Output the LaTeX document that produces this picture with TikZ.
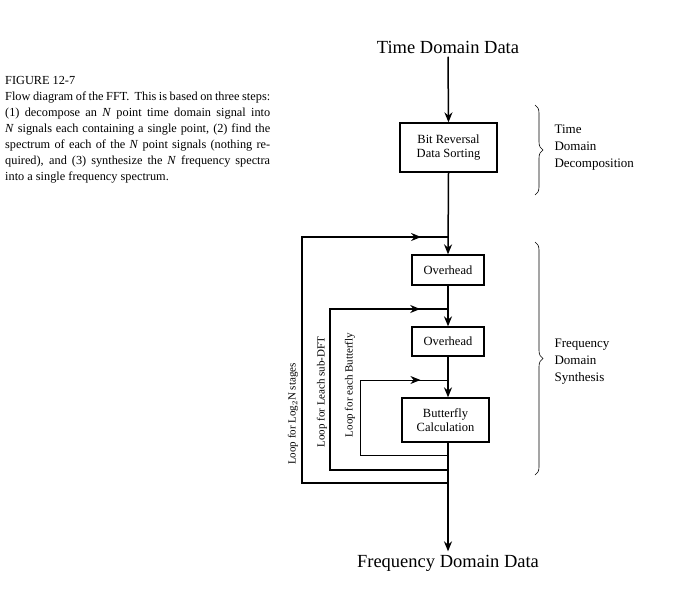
\documentclass[tikz,border=0pt]{standalone}
\usepackage{fontspec}
\setmainfont{Liberation Serif}
\usetikzlibrary{arrows.meta,decorations.pathreplacing,decorations.markings}
\begin{document}
\begin{tikzpicture}[x=1pt,y=-1pt,
  box/.style={draw,line width=1.3pt,align=center,font=\fontsize{12.5}{14}\selectfont,inner sep=0pt},
  flow/.style={line width=1.5pt,-{Stealth[length=10pt,width=8pt]}},
  loopl/.style={line width=1.5pt,postaction={decorate},decoration={markings,mark=at position #1 with {\arrow{Stealth[length=10pt,width=8pt]}}}},
  lbl/.style={rotate=90,font=\fontsize{11}{12}\selectfont},
  brace/.style={decorate,decoration={brace,amplitude=8pt},line width=0.6pt},
  side/.style={align=left,font=\fontsize{13}{17}\selectfont,anchor=west}]
\useasboundingbox (0,0) rectangle (690,608);
\node[font=\fontsize{18.5}{20}\selectfont] (top) at (448,47) {Time Domain Data};
\node[font=\fontsize{18.5}{20}\selectfont] (bot) at (448,563) {Frequency Domain Data};
\node[box,minimum width=97pt,minimum height=49pt] (bit) at (448.5,147.5) {Bit Reversal\\Data Sorting};
\node[box,minimum width=72pt,minimum height=30pt] (ov1) at (448,270) {Overhead};
\node[box,minimum width=72pt,minimum height=29pt] (ov2) at (448,341.5) {Overhead};
\node[box,minimum width=87pt,minimum height=44pt] (bf) at (445.5,420) {Butterfly\\Calculation};
\coordinate (j1) at (448,237);
\coordinate (j2) at (448,309);
\coordinate (j3) at (448,380);
\coordinate (e3) at (448,455);
\coordinate (e2) at (448,470);
\coordinate (e1) at (448,483);
\draw[flow] (top.south) -- (bit.north);
\draw[flow] (bit.south) -- (ov1.north);
\draw[flow] (ov1.south) -- (ov2.north);
\draw[flow] (ov2.south) -- (ov2.south |- bf.north);
\draw[flow] (ov2.south |- bf.south) -- (bot.north);
\draw[loopl=0.95] (e1) -| (302,237) -- (j1);
\draw[loopl=0.93] (e2) -| (330,309) -- (j2);
\draw[loopl=0.89,line width=1pt] (e3) -| (360,380) -- (j3);
\node[lbl] (l1) at (293,414) {Loop for Log$_2$N stages};
\node[lbl] (l2) at (322,392) {Loop for Leach sub-DFT};
\node[lbl] (l3) at (350,385) {Loop for each Butterfly};
\draw[brace] (535,105) -- (535,195);
\draw[brace] (535,242) -- (535,475);
\node[side] (t1) at (551,148) {Time\\Domain\\Decomposition};
\node[side] (t2) at (551,362) {Frequency\\Domain\\Synthesis};
\node[anchor=north west,align=justify,text width=265pt,inner sep=0pt,font=\fontsize{12.3}{16}\selectfont] (cap) at (5,76)
{FIGURE 12-7\\Flow diagram of the FFT.\ \ This is based on three steps: (1) decompose an \textit{N} point time domain signal into \textit{N} signals each containing a single point, (2) find the spectrum of each of the \textit{N} point signals (nothing required), and (3) synthesize the \textit{N} frequency spectra into a single frequency spectrum.};
\end{tikzpicture}
\end{document}
